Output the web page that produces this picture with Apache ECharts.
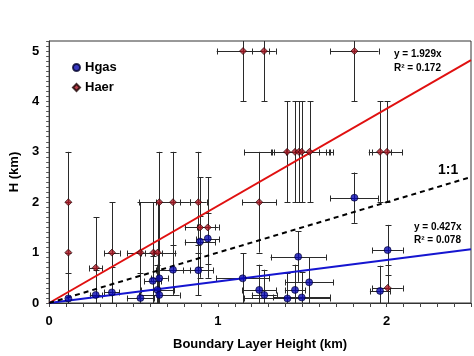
<!DOCTYPE html>
<html><head><meta charset="utf-8">
<script src="https://cdn.jsdelivr.net/npm/echarts@6/dist/echarts.min.js"></script>
<style>html,body{margin:0;padding:0;background:#fff}#c{width:474px;height:356px}</style>
</head><body><div id="c"></div>
<script>
// ---- data (km) ----
const hgasX    = [0.114,0.276,0.372,0.541,0.614,0.642,0.653,0.653,0.734,0.884,0.894,0.94,1.147,1.245,1.275,1.412,1.457,1.476,1.497,1.541,1.809,1.961,2.006];
const hgasY    = [0.09,0.16,0.21,0.10,0.44,0.26,0.49,0.16,0.66,0.65,1.22,1.28,0.49,0.26,0.16,0.09,0.26,0.92,0.11,0.41,2.09,0.24,1.05];
const hgasXErr = [0,0.035,0.045,0.08,0.05,0.1,0.05,0.12,0.1,0.09,0.09,0.067,0.157,0.1,0.074,0.255,0.06,0.164,0.17,0.143,0.142,0.06,0.09];
const hgasYErr = [0.5,0.5,0.5,0.5,0.5,0.5,0.5,0.5,0.5,0.5,0.5,0.5,0.5,0.5,0.5,0.5,0.5,0.5,0.5,0.5,0.5,0.5,0.5];

const haerX    = [0.114,0.114,0.276,0.372,0.541,0.618,0.643,0.653,0.734,0.884,0.894,0.94,1.149,1.245,1.273,1.41,1.457,1.48,1.497,1.543,1.809,1.961,2.002,2.006];
const haerY    = [2.0,1.0,0.7,1.0,1.0,1.0,1.0,2.0,2.0,2.0,1.5,1.5,5.0,2.0,5.0,3.0,3.0,3.0,3.0,3.0,5.0,3.0,3.0,0.3];
const haerXErr = [0,0,0.037,0.046,0.08,0.05,0.1,0.12,0.1,0.05,0.09,0.065,0.156,0.1,0.07,0.254,0.145,0.162,0.162,0.139,0.143,0.067,0.09,0.09];
const haerYErr = [1,1,1,1,1,1,1,1,1,1,1,1,1,1,1,1,1,1,1,1,1,1,1,0.45];

const fitLines = [
  {name:'Haer fit', slope:1.929, color:'#e01010', dash:'solid', width:2},
  {name:'Hgas fit', slope:0.427, color:'#1515d0', dash:'solid', width:2},
  {name:'1:1',      slope:1.0,   color:'#000000', dash:[5,4],   width:2}
];
const xMax = 2.5, yMax = 5.2;
const xTickLabels = [0,1,2];
const yTickLabels = [0,1,2,3,4,5];

const FONT = '"Liberation Sans", Arial, Helvetica, sans-serif';

function zip4(a,b,c,d){ return a.map((v,i)=>[v,b[i],c[i],d[i]]); }
function zip2(a,b){ return a.map((v,i)=>[v,b[i]]); }

function errRender(params, api){
  const x = api.value(0), y = api.value(1), ex = api.value(2), ey = api.value(3);
  const cs = params.coordSys;
  const yTop = cs.y, yBot = cs.y + cs.height, xL = cs.x, xR = cs.x + cs.width;
  const c = api.coord([x,y]);
  const px = Math.round(c[0]) + 0.5, py = Math.round(c[1]) + 0.5;
  const style = {stroke:'#2a2a2a', lineWidth:1, fill:null};
  const cap = 3;
  const ch = [];
  if (ey > 0){
    const t = api.coord([x, y+ey])[1], b = api.coord([x, y-ey])[1];
    const tc = Math.max(yTop, t), bc = Math.min(yBot, b);
    ch.push({type:'line', shape:{x1:px,y1:tc,x2:px,y2:bc}, style});
    if (t >= yTop) ch.push({type:'line', shape:{x1:px-cap,y1:Math.round(t)+0.5,x2:px+cap,y2:Math.round(t)+0.5}, style});
    if (b <= yBot) ch.push({type:'line', shape:{x1:px-cap,y1:Math.round(b)+0.5,x2:px+cap,y2:Math.round(b)+0.5}, style});
  }
  if (ex > 0){
    const l = api.coord([x-ex, y])[0], r = api.coord([x+ex, y])[0];
    const lc = Math.max(xL, l), rc = Math.min(xR, r);
    ch.push({type:'line', shape:{x1:lc,y1:py,x2:rc,y2:py}, style});
    if (l >= xL) ch.push({type:'line', shape:{x1:Math.round(l)+0.5,y1:py-cap,x2:Math.round(l)+0.5,y2:py+cap}, style});
    if (r <= xR) ch.push({type:'line', shape:{x1:Math.round(r)+0.5,y1:py-cap,x2:Math.round(r)+0.5,y2:py+cap}, style});
  }
  return {type:'group', children:ch};
}

const isInt = v => Math.abs(v - Math.round(v)) < 1e-6;

const chart = echarts.init(document.getElementById('c'), null, {renderer:'canvas'});
const series = [
  {type:'custom', name:'Haer err', renderItem:errRender, data:zip4(haerX,haerY,haerXErr,haerYErr), encode:{x:0,y:1}, z:1, silent:true},
  {type:'custom', name:'Hgas err', renderItem:errRender, data:zip4(hgasX,hgasY,hgasXErr,hgasYErr), encode:{x:0,y:1}, z:1, silent:true}
];
fitLines.forEach(f=>{
  series.push({type:'line', name:f.name, data:[[0,0],[xMax, f.slope*xMax]], symbol:'none', z:2,
    lineStyle:{color:f.color, width:f.width, type:f.dash}, silent:true, animation:false});
});
series.push({type:'scatter', name:'Haer', data:zip2(haerX,haerY), symbol:'diamond', symbolSize:7, z:3,
  itemStyle:{color:'#a81420', borderColor:'#1a0000', borderWidth:0.8}});
series.push({type:'scatter', name:'Hgas', data:zip2(hgasX,hgasY), symbol:'circle', symbolSize:7, z:4,
  itemStyle:{color:'#0808b0', borderColor:'#00002a', borderWidth:0.8}});

chart.setOption({
  animation:false,
  backgroundColor:'#fff',
  grid:{left:38, right:3, top:41, bottom:52, show:true, borderColor:'#333', borderWidth:1},
  legend:{
    data:[{name:'Hgas', icon:'circle'},{name:'Haer', icon:'diamond'}],
    orient:'vertical', left:72, top:61, padding:0, itemWidth:7, itemHeight:7, itemGap:7,
    textStyle:{fontFamily:FONT, fontWeight:'bold', fontSize:13, color:'#000'}
  },
  xAxis:{
    type:'value', min:0, max:xMax, interval:0.1,
    name:'Boundary Layer Height (km)', nameLocation:'middle', nameGap:35,
    nameTextStyle:{fontFamily:FONT, fontWeight:'bold', fontSize:13, color:'#000'},
    axisLine:{lineStyle:{color:'#333', width:1}},
    axisTick:{show:true, length:4, inside:false, lineStyle:{color:'#444'}},
    axisLabel:{interval:0, margin:12, fontFamily:FONT, fontWeight:'bold', fontSize:13, color:'#000',
      formatter:v=> (isInt(v) && xTickLabels.includes(Math.round(v))) ? String(Math.round(v)) : ''},
    splitLine:{show:false}
  },
  yAxis:{
    type:'value', min:0, max:yMax, interval:0.1,
    name:'H (km)', nameLocation:'middle', nameGap:18, nameRotate:90,
    nameTextStyle:{fontFamily:FONT, fontWeight:'bold', fontSize:13, color:'#000'},
    axisLine:{show:true, lineStyle:{color:'#333', width:1}},
    axisTick:{show:true, length:3, inside:false, lineStyle:{color:'#555'}},
    axisLabel:{interval:0, margin:10, fontFamily:FONT, fontWeight:'bold', fontSize:13, color:'#000',
      formatter:v=> (isInt(v) && yTickLabels.includes(Math.round(v))) ? String(Math.round(v)) : ''},
    splitLine:{show:false}
  },
  graphic:[
    {type:'text', left:394, top:49, style:{text:'y = 1.929x', font:'bold 10px '+FONT, fill:'#000'}},
    {type:'text', left:394, top:63, style:{text:'R\u00B2 = 0.172', font:'bold 10px '+FONT, fill:'#000'}},
    {type:'text', left:438, top:163, style:{text:'1:1', font:'bold 14px '+FONT, fill:'#000'}},
    {type:'text', left:414, top:222, style:{text:'y = 0.427x', font:'bold 10px '+FONT, fill:'#000'}},
    {type:'text', left:414, top:235, style:{text:'R\u00B2 = 0.078', font:'bold 10px '+FONT, fill:'#000'}}
  ],
  series
});
</script></body></html>
